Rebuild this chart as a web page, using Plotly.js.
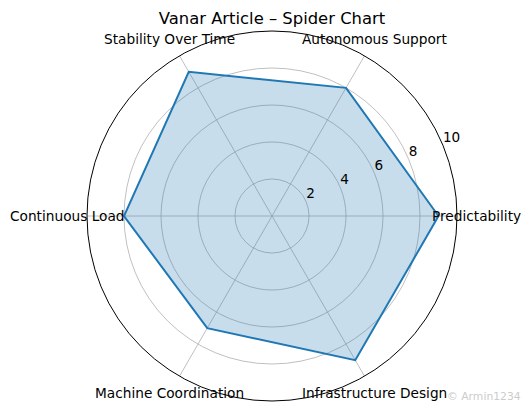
<!DOCTYPE html>
<html>
<head>
<meta charset="utf-8">
<script src="https://cdn.plot.ly/plotly-3.0.1.min.js"></script>
<style>html,body{margin:0;padding:0;background:#fff;}</style>
</head>
<body>
<div id="chart" style="width:531px;height:411px;"></div>
<script>
const categories = ["Predictability", "Autonomous Support", "Stability Over Time", "Continuous Load", "Machine Coordination", "Infrastructure Design"];
const values = [9, 8, 9, 8, 7, 9];
const radialTicks = [2, 4, 6, 8, 10];
const radialTickLabels = ["2", "4", "6", "8", "10"];

const W = 531, H = 411;
const step = 360 / categories.length;
const angles = categories.map((c, i) => i * step);
const rMax = 10;
const labelR = 11.05;

const FONT = "DejaVu Sans, sans-serif";
const domX = [87 / W, 457 / W];
const domY = [10 / H, 380 / H];

const traces = [
  {
    type: "scatterpolar",
    r: values.concat([values[0]]),
    theta: angles.concat([angles[0]]),
    mode: "lines",
    fill: "toself",
    fillcolor: "rgba(31,119,180,0.25)",
    line: {color: "#1f77b4", width: 2},
    hoverinfo: "skip"
  },
  {
    type: "scatterpolar",
    r: radialTicks,
    theta: radialTicks.map(() => 22.5),
    mode: "text",
    text: radialTickLabels,
    textposition: "top right",
    textfont: {family: FONT, size: 13.6, color: "#000"},
    cliponaxis: false,
    hoverinfo: "skip"
  }
];

// category labels placed just outside the polar frame, derived from the polar domain geometry
const cxPx = (domX[0] + domX[1]) / 2 * W;
const cyPx = (domY[0] + domY[1]) / 2 * H; // from bottom
const radPx = Math.min((domX[1] - domX[0]) * W, (domY[1] - domY[0]) * H) / 2;
const catAnnotations = categories.map((c, i) => {
  const a = angles[i] * Math.PI / 180;
  const rp = radPx * labelR / rMax;
  return {
    text: c,
    xref: "paper", yref: "paper",
    x: (cxPx + rp * Math.cos(a)) / W,
    y: (cyPx + rp * Math.sin(a)) / H,
    xanchor: "center", yanchor: "middle",
    showarrow: false,
    font: {family: FONT, size: 13.7, color: "#000"}
  };
});

const layout = {
  width: W,
  height: H,
  margin: {l: 0, r: 0, t: 0, b: 0},
  paper_bgcolor: "#fff",
  showlegend: false,
  font: {family: FONT, color: "#000"},
  title: {
    text: "Vanar Article – Spider Chart",
    font: {family: FONT, size: 16.4, color: "#000"},
    x: 272 / W, xanchor: "center",
    y: (H - 18) / H, yanchor: "middle", yref: "container"
  },
  polar: {
    domain: {x: domX, y: domY},
    bgcolor: "#fff",
    angularaxis: {
      type: "linear",
      thetaunit: "degrees",
      rotation: 0,
      direction: "counterclockwise",
      tickvals: angles,
      ticktext: categories,
      showticklabels: false,
      ticks: "",
      showgrid: true,
      gridcolor: "#b0b0b0",
      gridwidth: 0.8,
      showline: true,
      linecolor: "#000",
      linewidth: 1
    },
    radialaxis: {
      range: [0, rMax],
      tickvals: radialTicks,
      showticklabels: false,
      ticks: "",
      showline: false,
      showgrid: true,
      gridcolor: "#b0b0b0",
      gridwidth: 0.8,
      angle: 22.5
    }
  },
  annotations: catAnnotations.concat([
    {
      text: "© Armin1234",
      xref: "paper", yref: "paper",
      x: 523 / W, y: (H - 396) / H,
      xanchor: "right", yanchor: "middle",
      showarrow: false,
      font: {family: FONT, size: 10.8, color: "#cccccc"}
    }
  ])
};

Plotly.newPlot("chart", traces, layout, {displayModeBar: false, staticPlot: true});
</script>
</body>
</html>
